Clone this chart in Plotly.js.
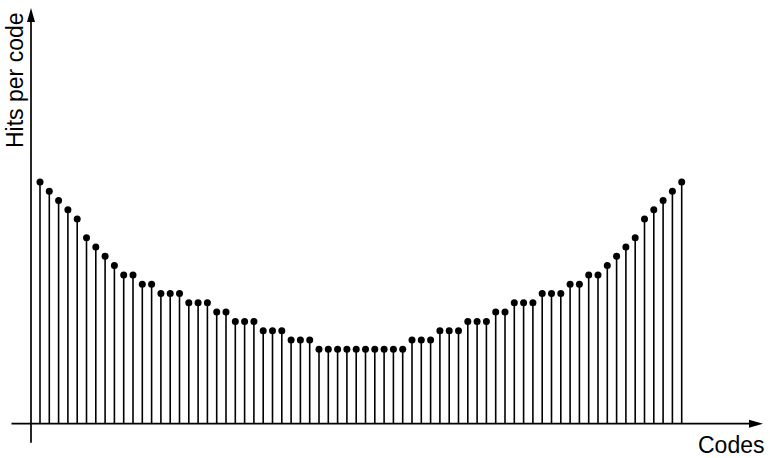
<!DOCTYPE html>
<html>
<head>
<meta charset="utf-8">
<script src="https://cdn.plot.ly/plotly-3.0.1.min.js"></script>
<style>
html,body{margin:0;padding:0;background:#fff;}
#chart{width:770px;height:458px;}
</style>
</head>
<body>
<div id="chart"></div>
<script>
// Code index (0..69) and hits per code (in units of one dot step)
const codes = [];
for (let i = 0; i < 70; i++) codes.push(i);
const hits = [
  26, 25, 24, 23, 22, 20, 19, 18, 17, 16,
  16, 15, 15, 14, 14, 14, 13, 13, 13, 12,
  12, 11, 11, 11, 10, 10, 10, 9, 9, 9,
  8, 8, 8, 8, 8, 8, 8, 8, 8, 8,
  9, 9, 9, 10, 10, 10, 11, 11, 11, 12,
  12, 13, 13, 13, 14, 14, 14, 15, 15, 16,
  16, 17, 18, 19, 20, 22, 23, 24, 25, 26
];
const xLabel = "Codes";
const yLabel = "Hits per code";

const stems = hits.map(() => 0);

const trace = {
  type: 'scatter',
  mode: 'markers',
  x: codes,
  y: hits,
  marker: {color: '#000', size: 7},
  error_y: {
    type: 'data', symmetric: false,
    array: stems, arrayminus: hits,
    width: 0, thickness: 1.6, color: '#000'
  },
  hoverinfo: 'skip',
  cliponaxis: false
};

const xMin = -4.301, xMax = 78.495;
const yMin = -3.688, yMax = 45.56;
const yAxisX = -0.968;
const xAxisEnd = 77.74;
const yAxisTop = 44.7;

const layout = {
  width: 770, height: 458,
  margin: {l: 0, r: 0, t: 0, b: 0, pad: 0},
  paper_bgcolor: '#fff', plot_bgcolor: '#fff',
  showlegend: false,
  font: {family: 'Liberation Sans, Arial, sans-serif', color: '#000'},
  xaxis: {range: [xMin, xMax], visible: false, fixedrange: true},
  yaxis: {range: [yMin, yMax], visible: false, fixedrange: true},
  shapes: [
    // x axis line
    {type: 'line', xref: 'x', yref: 'y', x0: -3.065, x1: xAxisEnd - 1.2, y0: 0, y1: 0,
     line: {color: '#000', width: 1.7}, layer: 'below'},
    // y axis line
    {type: 'line', xref: 'x', yref: 'y', x0: yAxisX, x1: yAxisX, y0: -2.04, y1: yAxisTop - 1.2,
     line: {color: '#000', width: 1.7}, layer: 'below'},
    // x arrow head
    {type: 'path', xref: 'x', yref: 'y', xsizemode: 'pixel', ysizemode: 'pixel',
     xanchor: xAxisEnd, yanchor: 0, path: 'M-14,-4 L0,0 L-14,4 Z',
     fillcolor: '#000', line: {width: 0}},
    // y arrow head
    {type: 'path', xref: 'x', yref: 'y', xsizemode: 'pixel', ysizemode: 'pixel',
     xanchor: yAxisX, yanchor: yAxisTop, path: 'M-4,-14 L0,0 L4,-14 Z',
     fillcolor: '#000', line: {width: 0}}
  ],
  annotations: [
    {text: xLabel, xref: 'paper', yref: 'paper', x: 766/770, y: 1 - 445/458,
     xanchor: 'right', yanchor: 'middle', showarrow: false,
     font: {size: 23, color: '#000', family: 'Liberation Sans, Arial, sans-serif'}},
    {text: yLabel, xref: 'paper', yref: 'paper', x: 15/770, y: 1 - 80/458,
     xanchor: 'center', yanchor: 'middle', textangle: -90, showarrow: false,
     font: {size: 23, color: '#000', family: 'Liberation Sans, Arial, sans-serif'}}
  ]
};

Plotly.newPlot('chart', [trace], layout, {staticPlot: true, displayModeBar: false});
</script>
</body>
</html>
